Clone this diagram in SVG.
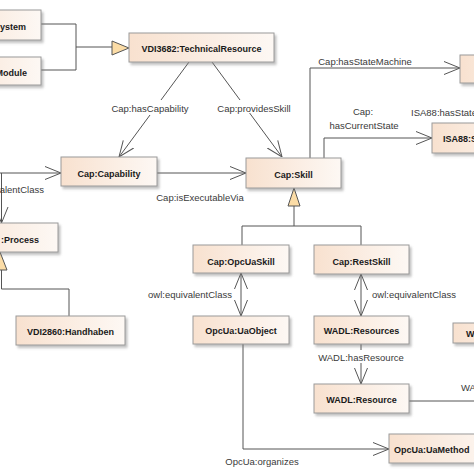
<svg xmlns="http://www.w3.org/2000/svg" width="474" height="474" viewBox="0 0 474 474">
<style>
.box{fill:url(#g);stroke:#9a9a9a;stroke-width:1;filter:url(#sh)}
.bt{font-family:"Liberation Sans",Arial,sans-serif;font-size:9px;font-weight:bold;fill:#1a1a1a}
.lb{font-family:"Liberation Sans",Arial,sans-serif;font-size:9.5px;fill:#3a3a3a}
.c{text-anchor:middle}
.e{text-anchor:end}
.ln{fill:none;stroke:#555;stroke-width:1}
.arr{marker-end:url(#a)}
.dbl{marker-end:url(#a);marker-start:url(#a)}
.tri{fill:#fbdca6;stroke:#555;stroke-width:1}
</style>
<defs>
<linearGradient id="g" x1="0" y1="0" x2="1" y2="0">
<stop offset="0" stop-color="#f8e1cf"/>
<stop offset="1" stop-color="#fdf8f4"/>
</linearGradient>
<filter id="sh" x="-10%" y="-20%" width="130%" height="160%">
<feDropShadow dx="2" dy="2.5" stdDeviation="1.2" flood-color="#777" flood-opacity="0.45"/>
</filter>
<marker id="a" viewBox="0 0 16 14" refX="16" refY="7" markerWidth="16" markerHeight="14" markerUnits="userSpaceOnUse" orient="auto-start-reverse">
<path d="M0,0.5 L16,7 L0,13.5" fill="none" stroke="#555" stroke-width="1"/>
</marker>
</defs>
<rect width="474" height="474" fill="#ffffff"/>
<g id="connectors">
<!-- System/Module generalization to TechnicalResource -->
<path class="ln" d="M41,24 H76 V70 H41 M76,47 H112"/>
<polygon class="tri" points="112,41 129,48 112,55"/>
<!-- hasCapability -->
<path class="ln" d="M189,62 L161,100"/>
<path class="ln arr" d="M150,115 L119,157"/>
<!-- providesSkill -->
<path class="ln" d="M212,62 L240,100"/>
<path class="ln arr" d="M249.6,113 L282,157"/>
<!-- left equivalentClass -->
<path class="ln arr" d="M-4,173 H61"/>
<path class="ln arr" d="M1.5,173 V223" stroke-width="2"/>
<!-- Process generalization -->
<polygon class="tri" points="0,252 7,270 -7,270"/>
<path class="ln" d="M1.5,270 V289" stroke-width="2"/>
<path class="ln" d="M1.5,289 H69 V316"/>
<!-- isExecutableVia -->
<path class="ln arr" d="M157,173 H246"/>
<!-- hasStateMachine -->
<path class="ln arr" d="M310,158 V68 H460"/>
<!-- hasCurrentState -->
<path class="ln arr" d="M324,158 V138 H432"/>
<!-- Skill generalization -->
<polygon class="tri" points="294,188 300,206 288,206"/>
<path class="ln" d="M294,206 V226 M242,245 V226 H361 V245"/>
<!-- equivalentClass double arrows -->
<path class="ln dbl" d="M241,273 V316"/>
<path class="ln dbl" d="M361,274 V316"/>
<!-- hasResource -->
<path class="ln" d="M361,344 V350"/>
<path class="ln arr" d="M361,363 V384"/>
<!-- Resource to right -->
<path class="ln" d="M409,401 H480"/>
<!-- organizes -->
<path class="ln arr" d="M243,344 V449 H389"/>
</g>
<g id="n-system"><rect class="box" x="-60" y="10" width="101" height="30"/><text class="bt e" x="26" y="30">System</text></g>
<g id="n-module"><rect class="box" x="-60" y="57" width="101" height="28"/><text class="bt e" x="27" y="76">Module</text></g>
<g id="n-techres"><rect class="box" x="129" y="33" width="145" height="29"/><text class="bt c" x="201.5" y="51.5">VDI3682:TechnicalResource</text></g>
<g id="n-capability"><rect class="box" x="61" y="157" width="96" height="29"/><text class="bt c" x="109" y="177">Cap:Capability</text></g>
<g id="n-process"><rect class="box" x="-60" y="223" width="118" height="29"/><text class="bt e" x="39" y="243">:Process</text></g>
<g id="n-handhaben"><rect class="box" x="16" y="316" width="109" height="29"/><text class="bt c" x="70.5" y="334.5">VDI2860:Handhaben</text></g>
<g id="n-skill"><rect class="box" x="246" y="158" width="95" height="30"/><text class="bt c" x="293.5" y="177.5">Cap:Skill</text></g>
<g id="n-statemachine"><rect class="box" x="460" y="55" width="80" height="28"/></g>
<g id="n-state"><rect class="box" x="432" y="123" width="100" height="30"/><text class="bt" x="443" y="141.5">ISA88:State</text></g>
<g id="n-opcuaskill"><rect class="box" x="193" y="245" width="96" height="28"/><text class="bt c" x="241" y="264.5">Cap:OpcUaSkill</text></g>
<g id="n-restskill"><rect class="box" x="314" y="245" width="95" height="29"/><text class="bt c" x="361.5" y="264.5">Cap:RestSkill</text></g>
<g id="n-uaobject"><rect class="box" x="193" y="316" width="96" height="28"/><text class="bt c" x="241" y="334">OpcUa:UaObject</text></g>
<g id="n-resources"><rect class="box" x="314" y="316" width="95" height="28"/><text class="bt c" x="361.5" y="334">WADL:Resources</text></g>
<g id="n-resource"><rect class="box" x="314" y="384" width="95" height="29"/><text class="bt c" x="361.5" y="403">WADL:Resource</text></g>
<g id="n-method"><rect class="box" x="453" y="323" width="90" height="20"/><text class="bt" x="466" y="336.5">WADL:Method</text></g>
<g id="n-uamethod"><rect class="box" x="389" y="434" width="110" height="29"/><text class="bt" x="394" y="452.5">OpcUa:UaMethod</text></g>
<g id="labels">
<text class="lb c" x="150" y="111.5">Cap:hasCapability</text>
<text class="lb c" x="254" y="111.5">Cap:providesSkill</text>
<text class="lb e" x="44" y="193">owl:equivalentClass</text>
<text class="lb c" x="200" y="200.5">Cap:isExecutableVia</text>
<text class="lb c" x="365" y="64.5">Cap:hasStateMachine</text>
<text class="lb c" x="363" y="115">Cap:</text>
<text class="lb c" x="364" y="128.5">hasCurrentState</text>
<text class="lb" x="411" y="115.5">ISA88:hasState</text>
<text class="lb e" x="232" y="298">owl:equivalentClass</text>
<text class="lb" x="372" y="297.5">owl:equivalentClass</text>
<text class="lb c" x="361" y="360.5">WADL:hasResource</text>
<text class="lb" x="461" y="391">WADL:hasMethod</text>
<text class="lb c" x="262" y="464.5">OpcUa:organizes</text>
</g>
</svg>
